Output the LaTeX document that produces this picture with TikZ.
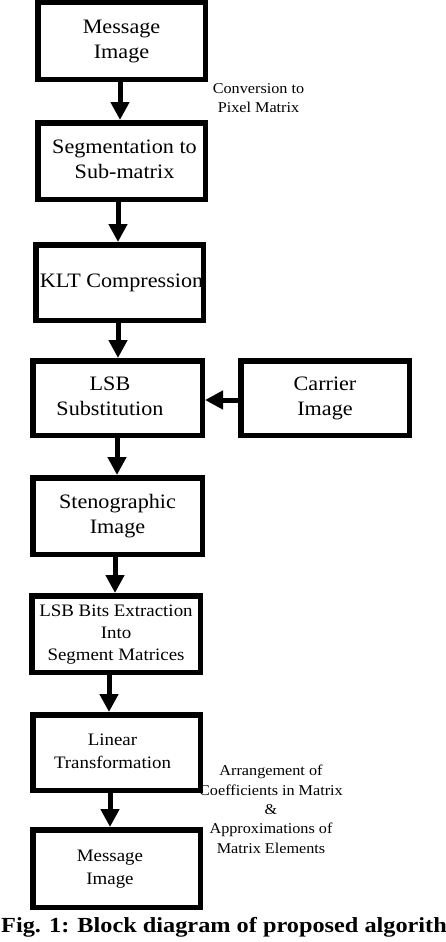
\documentclass[tikz,border=0pt]{standalone}
\usepackage{fontspec}
\setmainfont{Liberation Serif}[FakeStretch=1.08]
\newfontfamily\capfont{Liberation Serif}[FakeStretch=1.13]
\usetikzlibrary{arrows.meta}
% #1 extra top height, #2 left pad, #3 right pad, #4 text
\newcommand\tb[4]{\begin{tabular}{@{\hspace{#2}}c@{\hspace{#3}}}\rule{0pt}{\dimexpr.7\baselineskip+#1\relax}#4\end{tabular}}
\tikzset{
  blk/.style={draw, line width=5.5pt, inner sep=0pt, fill=white},
  big/.style={font=\fontsize{20.5}{25.5}\selectfont},
  sml/.style={font=\fontsize{17.5}{22.3}\selectfont},
  arr/.style={line width=5pt, -{Triangle[width=18pt,length=18pt]}},
  note/.style={font=\fontsize{15}{19.4}\selectfont, inner sep=0pt},
}
\begin{document}
\begin{tikzpicture}[x=1pt,y=-1pt]
\useasboundingbox[fill=white] (0,0) rectangle (446,942);
% boxes
\node[blk,big,minimum width=167.5pt,minimum height=76.5pt] (b1) at (121.5,41) {\tb{8.3pt}{0pt}{0pt}{Message\\Image}};
\node[blk,big,minimum width=167.5pt,minimum height=76.5pt] (b2) at (121.5,161) {\tb{8.8pt}{6pt}{0pt}{Segmentation to\\Sub-matrix}};
\node[blk,big,minimum width=167.5pt,minimum height=75.5pt] (b3) at (119.5,282.5) {\tb{4.8pt}{0pt}{0pt}{\makebox[150pt]{\hspace{4pt}KLT Compression}}};
\node[blk,big,minimum width=169.5pt,minimum height=74.5pt] (b4) at (117.5,398) {\tb{3.8pt}{0pt}{15pt}{LSB\\Substitution}};
\node[blk,big,minimum width=168.5pt,minimum height=74.5pt] (c) at (325,398) {\tb{3.8pt}{0pt}{0pt}{Carrier\\Image}};
\node[blk,big,minimum width=169.5pt,minimum height=76.5pt] (b5) at (117.5,516) {\tb{6.8pt}{0pt}{0pt}{Stenographic\\Image}};
\node[blk,sml,minimum width=168.5pt,minimum height=76.5pt] (b6) at (116,634) {\tb{4pt}{0pt}{0pt}{LSB Bits Extraction\\Into\\Segment Matrices}};
\node[blk,sml,minimum width=167.5pt,minimum height=75.5pt] (b7) at (116.5,752.5) {\tb{0pt}{0pt}{8pt}{Linear\\Transformation}};
\node[blk,sml,minimum width=167.5pt,minimum height=77.5pt] (b8) at (116.5,868.5) {\tb{2pt}{0pt}{13pt}{Message\\Image}};
% connectors
\draw[arr] (b1.south -| 120,0) -- (b2.north -| 120,0);
\draw[arr] (b2.south -| 118,0) -- (b3.north -| 118,0);
\draw[arr] (b3.south -| 118,0) -- (b4.north -| 118,0);
\draw[arr] (c.west |- 0,400) -- (b4.east |- 0,400);
\draw[arr] (b4.south -| 117,0) -- (b5.north -| 117,0);
\draw[arr] (b5.south -| 115,0) -- (b6.north -| 115,0);
\draw[arr] (b6.south -| 109,0) -- (b7.north -| 109,0);
\draw[arr] (b7.south -| 110,0) -- (b8.north -| 110,0);
% annotations
\node[note] (n1) at (258.5,98.9) {\tb{0pt}{0pt}{0pt}{Conversion to\\Pixel Matrix}};
\node[note] (n2) at (271,810.6) {\tb{0pt}{0pt}{0pt}{Arrangement of\\Coefficients in Matrix\\\&\\Approximations of\\Matrix Elements}};
% caption
\node[anchor=base west, inner sep=0pt, font=\capfont\bfseries\fontsize{21.5}{26}\selectfont] (cap) at (1,932) {Fig. 1: Block diagram of proposed algorithm};
\end{tikzpicture}
\end{document}
